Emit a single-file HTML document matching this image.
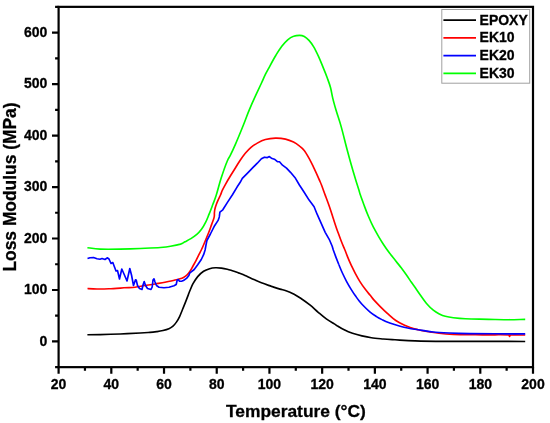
<!DOCTYPE html>
<html><head><meta charset="utf-8"><title>Loss Modulus</title>
<style>
html,body{margin:0;padding:0;background:#fff}
svg{display:block}
text{font-family:"Liberation Sans",Arial,sans-serif;font-weight:bold;fill:#000;stroke:#000;stroke-width:0.3px}
</style></head><body>
<svg width="550" height="423" viewBox="0 0 550 423">
<rect width="550" height="423" fill="#fff"/>
<g fill="none" stroke-linejoin="round" stroke-linecap="butt" stroke-width="1.65">
<path stroke="#000" d="M87.4 334.8C89.5 334.8 94.6 334.7 100.1 334.6C105.6 334.5 113.5 334.3 120.2 334.0C126.9 333.7 135.3 333.3 140.3 333.0C145.3 332.7 147.2 332.6 150.0 332.4C152.8 332.2 154.9 331.9 157.1 331.6C159.3 331.3 161.0 331.0 163.0 330.5C165.0 330.0 167.2 329.4 168.9 328.7C170.6 328.0 171.7 327.2 173.0 326.1C174.3 325.0 175.5 323.5 176.6 321.9C177.7 320.3 178.6 318.7 179.6 316.6C180.6 314.5 181.5 311.9 182.5 309.5C183.5 307.1 184.5 304.6 185.5 302.1C186.5 299.6 187.6 296.7 188.4 294.6C189.2 292.5 189.6 291.3 190.4 289.5C191.2 287.7 191.8 285.8 193.0 283.7C194.2 281.6 195.9 278.7 197.7 276.6C199.5 274.5 201.6 272.6 203.6 271.3C205.6 270.0 207.6 269.3 209.6 268.7C211.6 268.1 213.5 267.9 215.5 267.8C217.5 267.7 219.4 267.9 221.4 268.1C223.4 268.3 225.3 268.7 227.3 269.2C229.3 269.7 231.2 270.4 233.2 271.0C235.2 271.6 237.1 272.4 239.1 273.1C241.1 273.9 242.9 274.6 245.0 275.5C247.1 276.4 248.7 277.2 251.4 278.4C254.1 279.6 258.0 281.5 261.4 282.8C264.8 284.1 268.4 285.3 271.5 286.4C274.6 287.4 277.6 288.4 280.0 289.1C282.4 289.8 283.6 289.9 286.0 290.7C288.4 291.5 291.4 292.8 294.1 294.2C296.8 295.6 299.4 297.4 302.1 299.2C304.8 301.0 307.5 303.0 310.2 305.2C312.9 307.4 315.5 310.0 318.2 312.3C320.9 314.6 323.6 317.0 326.3 318.9C329.0 320.8 332.5 322.8 334.3 323.9C336.1 325.0 335.5 324.8 337.1 325.8C338.8 326.8 341.6 328.6 344.2 329.8C346.8 331.1 349.6 332.3 352.5 333.3C355.4 334.3 358.8 335.2 361.9 335.9C365.0 336.6 367.8 337.2 371.4 337.7C374.9 338.2 379.3 338.6 383.2 339.0C387.1 339.4 389.7 339.5 395.0 339.8C400.3 340.1 406.8 340.6 415.2 340.9C423.6 341.2 432.0 341.3 445.3 341.4C458.6 341.5 481.7 341.4 495.0 341.4C508.3 341.4 520.2 341.5 525.2 341.5"/>
<path stroke="#f00" d="M87.5 288.5C89.1 288.6 93.4 288.9 97.0 289.0C100.6 289.1 104.5 289.0 109.0 288.8C113.5 288.6 119.7 288.1 124.0 287.8C128.3 287.5 131.5 287.6 135.0 287.2C138.5 286.8 141.7 286.0 145.0 285.5C148.3 285.0 151.7 284.6 155.0 284.0C158.3 283.4 161.7 282.9 165.0 282.2C168.3 281.5 172.5 280.6 175.0 280.0C177.5 279.4 178.6 279.1 180.0 278.7C181.4 278.3 182.3 278.0 183.5 277.4C184.7 276.8 186.0 275.8 187.1 274.8C188.2 273.8 189.0 272.8 190.0 271.3C191.0 269.8 192.0 267.8 193.0 266.0C194.0 264.2 195.0 262.5 196.0 260.6C197.0 258.7 198.0 256.5 198.9 254.7C199.8 252.9 200.3 252.1 201.3 250.0C202.3 247.9 203.5 245.1 204.7 242.2C205.9 239.3 207.4 235.7 208.6 232.8C209.8 229.9 210.8 226.8 211.6 224.6C212.4 222.4 212.9 221.2 213.4 219.8C213.9 218.4 214.1 217.5 214.3 216.3C214.5 215.1 214.3 213.9 214.4 212.7C214.5 211.5 214.6 210.6 214.9 209.2C215.2 207.8 215.7 206.1 216.3 204.5C216.9 202.9 217.6 201.3 218.3 199.7C219.0 198.1 219.8 196.6 220.5 195.0C221.2 193.4 221.6 191.9 222.4 190.2C223.2 188.5 223.9 187.1 225.2 184.8C226.5 182.5 228.5 179.1 230.2 176.3C231.9 173.5 233.5 170.9 235.2 168.2C236.9 165.5 238.5 162.7 240.2 160.2C241.9 157.7 243.5 155.4 245.3 153.2C247.2 151.0 249.3 148.8 251.3 147.1C253.3 145.4 255.0 144.4 257.3 143.1C259.6 141.8 262.4 140.3 265.4 139.5C268.4 138.7 272.0 138.2 275.4 138.1C278.8 138.0 282.5 138.4 285.5 139.1C288.5 139.8 291.1 140.9 293.5 142.1C295.9 143.3 297.9 144.8 299.6 146.1C301.4 147.4 302.4 148.2 304.0 150.2C305.6 152.2 307.4 155.3 309.1 158.3C310.8 161.3 312.4 164.8 314.1 168.3C315.8 171.8 317.9 176.6 319.1 179.4C320.3 182.2 320.5 182.4 321.5 185.0C322.5 187.6 323.9 191.6 325.2 195.1C326.5 198.6 327.9 202.2 329.2 206.1C330.5 209.9 331.9 214.2 333.2 218.2C334.5 222.2 335.8 226.3 337.2 230.2C338.6 234.0 340.1 238.2 341.3 241.3C342.5 244.4 343.4 246.4 344.5 249.0C345.6 251.6 346.6 254.4 347.7 257.1C348.8 259.8 350.0 262.6 351.3 265.4C352.6 268.1 353.9 270.9 355.4 273.6C356.9 276.4 358.4 279.2 360.1 281.9C361.8 284.6 363.8 287.4 365.5 289.6C367.2 291.8 368.8 293.6 370.2 295.3C371.6 297.0 371.9 297.7 373.6 299.6C375.3 301.5 378.2 304.5 380.5 306.8C382.8 309.1 385.1 311.3 387.6 313.6C390.2 315.9 392.9 318.5 395.8 320.5C398.8 322.5 402.8 324.4 405.3 325.6C407.9 326.8 409.0 327.1 411.1 327.8C413.2 328.5 415.8 329.1 418.2 329.7C420.6 330.2 423.2 330.7 425.3 331.1C427.4 331.5 428.7 331.7 431.0 332.1C433.3 332.5 435.3 332.9 439.0 333.3C442.7 333.7 447.3 334.1 453.4 334.4C459.5 334.6 468.6 334.7 475.5 334.8C482.4 334.9 489.4 334.8 495.0 334.8C500.6 334.8 506.4 334.7 508.8 335.0C511.2 335.3 509.3 336.4 509.6 336.4C509.9 336.4 507.8 335.2 510.4 335.0C513.0 334.8 522.7 335.0 525.2 335.0"/>
<path stroke="#00f" d="M87.5 258.5L90.0 257.7L93.5 257.5L97.0 258.8L100.0 259.2L102.0 258.5L105.0 259.5L107.2 257.8L109.0 259.0L111.0 263.5L112.8 262.5L114.5 267.0L116.0 271.0L117.5 270.5L119.5 279.0L121.8 269.0L124.0 274.0L127.0 281.0L129.8 268.5L131.5 275.0L133.5 285.5L135.5 279.8L136.2 280.0L137.5 285.5L139.5 288.5L142.0 289.5L143.0 285.0L144.2 281.5L145.5 285.5L147.5 288.5L151.0 289.5L152.2 287.0L153.0 280.0L154.0 278.8L155.0 282.0L156.5 285.5L159.0 287.2L164.0 287.8L169.0 287.2L174.0 285.8L176.2 284.5L177.2 280.0L178.2 279.5L179.5 281.2L182.0 281.1L183.5 280.5L186.5 278.4L188.9 275.4L189.7 273.0L191.2 271.9L194.2 269.5L197.7 264.8L201.3 259.5L203.6 254.7L205.1 250.0L206.0 245.0L206.9 240.5L210.4 234.0L214.6 225.7L218.1 220.4L219.3 216.9L219.9 212.1L222.8 209.8L227.6 202.1L232.3 195.0L237.2 186.8L240.2 182.3L242.3 178.3L247.3 173.3L253.3 167.2L257.3 163.2L261.4 158.8L264.4 157.2L267.4 157.6L269.4 156.6L271.4 158.2L274.4 159.2L277.4 161.6L279.5 161.8L282.5 165.2L286.5 168.2L290.5 172.3L295.5 178.3L299.4 185.0L304.0 192.0L309.1 200.1L314.1 206.7L317.1 214.2L321.1 223.2L325.2 232.3L329.2 239.3L332.2 246.3L333.3 250.0L335.9 257.1L338.9 264.8"/>
<path stroke="#00f" d="M338.9 264.8C339.5 266.2 341.1 270.2 342.4 273.0C343.7 275.8 345.0 278.5 346.5 281.3C348.0 284.1 349.8 287.2 351.3 289.6C352.8 292.0 354.1 294.0 355.4 295.8C356.7 297.6 357.8 299.2 359.0 300.7C360.2 302.2 360.9 303.1 362.7 305.0C364.5 306.9 367.5 309.9 369.8 311.8C372.1 313.7 374.4 315.2 376.5 316.6C378.6 318.0 380.5 318.9 382.7 320.0C384.9 321.1 387.4 322.1 389.8 323.0C392.2 323.9 394.5 324.6 396.9 325.3C399.3 326.0 401.6 326.6 404.0 327.2C406.4 327.8 408.7 328.3 411.1 328.7C413.5 329.1 415.8 329.4 418.2 329.8C420.6 330.2 422.8 330.5 425.3 330.9C427.8 331.3 429.3 331.6 433.3 332.0C437.3 332.4 443.3 332.7 449.3 333.0C455.3 333.3 461.9 333.5 469.5 333.6C477.1 333.7 485.7 333.8 495.0 333.8C504.3 333.8 520.2 333.8 525.2 333.8"/>
<path stroke="#0f0" d="M87.4 247.7C89.5 247.9 94.6 248.9 100.1 249.1C105.6 249.3 113.5 249.2 120.2 249.1C126.9 249.0 133.6 248.8 140.3 248.5C147.0 248.2 155.4 247.9 160.4 247.5C165.4 247.1 167.2 246.9 170.5 246.3C173.8 245.7 178.1 244.8 180.5 244.1C182.9 243.3 183.3 242.7 185.0 241.8C186.7 240.9 188.9 239.8 190.9 238.6C192.9 237.4 195.0 235.9 196.8 234.4C198.6 232.9 200.0 231.3 201.5 229.3C203.0 227.3 204.4 224.8 205.7 222.2C207.0 219.6 208.0 216.8 209.2 213.9C210.4 211.0 211.6 207.7 212.8 204.5C214.0 201.3 214.9 199.4 216.3 195.0C217.7 190.6 219.3 183.9 221.1 178.3C222.9 172.7 225.6 165.0 227.2 161.2C228.8 157.3 229.0 158.1 230.4 155.2C231.8 152.3 233.4 148.8 235.6 143.8C237.8 138.8 241.1 130.6 243.4 125.0C245.7 119.4 247.1 115.0 249.2 110.1C251.2 105.2 253.6 99.9 255.7 95.4C257.8 90.9 259.9 86.5 261.5 83.0C263.1 79.5 264.1 77.1 265.5 74.2C266.9 71.3 268.3 69.0 270.0 65.8C271.7 62.6 273.9 58.5 275.9 55.2C277.9 52.0 279.8 48.9 281.8 46.3C283.8 43.7 285.7 41.5 287.7 39.8C289.7 38.1 291.6 37.0 293.6 36.3C295.6 35.5 297.8 35.3 299.6 35.3C301.4 35.3 302.7 35.6 304.3 36.5C305.9 37.4 307.4 38.7 309.0 40.4C310.6 42.1 312.1 44.2 313.7 46.9C315.3 49.6 316.9 53.0 318.5 56.4C320.1 59.8 321.7 64.0 323.2 67.6C324.7 71.2 326.1 74.7 327.3 78.0C328.5 81.3 329.6 84.1 330.5 87.5C331.4 90.9 331.9 94.6 332.8 98.4C333.7 102.2 334.6 105.3 336.0 110.1C337.4 114.9 339.5 120.6 341.3 127.1C343.1 133.6 345.1 142.0 347.0 149.2C348.9 156.4 350.9 163.6 352.9 170.4C354.9 177.2 357.6 186.0 358.9 190.1C360.1 194.2 359.5 192.4 360.4 195.1C361.3 197.8 363.1 202.6 364.4 206.1C365.7 209.6 366.9 212.7 368.4 216.2C369.9 219.7 371.7 223.8 373.4 227.2C375.1 230.5 376.8 233.4 378.5 236.3C380.2 239.2 381.7 241.7 383.5 244.5C385.3 247.3 387.4 250.2 389.5 253.0C391.6 255.8 394.1 258.7 396.0 261.2C397.9 263.7 399.5 265.5 401.2 267.8C402.9 270.1 404.6 272.4 406.3 274.8C408.0 277.2 409.9 280.1 411.4 282.3C412.9 284.5 413.9 285.7 415.5 288.0C417.1 290.3 419.2 293.5 421.2 296.2C423.1 298.9 425.2 301.9 427.2 304.2C429.2 306.5 431.3 308.6 433.3 310.2C435.3 311.8 437.3 312.9 439.3 313.9C441.3 314.9 443.0 315.7 445.3 316.3C447.6 316.9 450.0 317.3 453.4 317.7C456.8 318.1 461.0 318.5 465.4 318.7C469.8 318.9 474.6 319.0 479.5 319.1C484.4 319.2 489.9 319.4 495.0 319.5C500.1 319.6 505.0 319.7 510.0 319.7C515.0 319.7 522.7 319.4 525.2 319.4"/>
</g>
<rect x="58.6" y="6.85" width="474.4" height="360.3" fill="none" stroke="#000" stroke-width="2.2"/>
<path d="M58.60 367.2V373.8M84.96 367.2V370.7M111.31 367.2V373.8M137.67 367.2V370.7M164.02 367.2V373.8M190.38 367.2V370.7M216.73 367.2V373.8M243.09 367.2V370.7M269.44 367.2V373.8M295.80 367.2V370.7M322.16 367.2V373.8M348.51 367.2V370.7M374.87 367.2V373.8M401.22 367.2V370.7M427.58 367.2V373.8M453.93 367.2V370.7M480.29 367.2V373.8M506.64 367.2V370.7M533.00 367.2V373.8M58.6 367.20H55.1M58.6 341.46H52.0M58.6 315.72H55.1M58.6 289.98H52.0M58.6 264.24H55.1M58.6 238.50H52.0M58.6 212.76H55.1M58.6 187.03H52.0M58.6 161.29H55.1M58.6 135.55H52.0M58.6 109.81H55.1M58.6 84.07H52.0M58.6 58.33H55.1M58.6 32.59H52.0M58.6 6.85H55.1" stroke="#000" stroke-width="2.2" fill="none"/>
<g font-size="14px" text-anchor="middle"><text transform="translate(58.6 388.8) scale(1 1.06)">20</text><text transform="translate(111.3 388.8) scale(1 1.06)">40</text><text transform="translate(164.0 388.8) scale(1 1.06)">60</text><text transform="translate(216.7 388.8) scale(1 1.06)">80</text><text transform="translate(269.4 388.8) scale(1 1.06)">100</text><text transform="translate(322.2 388.8) scale(1 1.06)">120</text><text transform="translate(374.9 388.8) scale(1 1.06)">140</text><text transform="translate(427.6 388.8) scale(1 1.06)">160</text><text transform="translate(480.3 388.8) scale(1 1.06)">180</text><text transform="translate(533.0 388.8) scale(1 1.06)">200</text></g>
<g font-size="14px" text-anchor="end"><text transform="translate(47.3 345.6) scale(1 1.06)">0</text><text transform="translate(47.3 294.1) scale(1 1.06)">100</text><text transform="translate(47.3 242.6) scale(1 1.06)">200</text><text transform="translate(47.3 191.1) scale(1 1.06)">300</text><text transform="translate(47.3 139.6) scale(1 1.06)">400</text><text transform="translate(47.3 88.2) scale(1 1.06)">500</text><text transform="translate(47.3 36.7) scale(1 1.06)">600</text></g>
<text transform="translate(295.9 417.4) scale(1 1.00)" font-size="17.4px" text-anchor="middle" stroke-width="0.2">Temperature (°C)</text>
<text transform="translate(16.4 187) rotate(-90) scale(1 1.005)" font-size="17.4px" stroke-width="0.2" text-anchor="middle">Loss Modulus (MPa)</text>
<rect x="441.8" y="9.5" width="87.9" height="73.7" fill="#fff" stroke="#a0a0a0" stroke-width="1"/>
<g stroke-width="1.65" fill="none">
<path stroke="#000" d="M443.4 20.1H476"/>
<path stroke="#f00" d="M443.4 37.8H476"/>
<path stroke="#00f" d="M443.4 55.6H476"/>
<path stroke="#0f0" d="M443.4 73.3H476"/>
</g>
<g font-size="14px">
<text transform="translate(479.6 24.7) scale(1 1.06)">EPOXY</text>
<text transform="translate(479.6 42.4) scale(1 1.06)">EK10</text>
<text transform="translate(479.6 60.2) scale(1 1.06)">EK20</text>
<text transform="translate(479.6 77.9) scale(1 1.06)">EK30</text>
</g>
</svg>
</body></html>
